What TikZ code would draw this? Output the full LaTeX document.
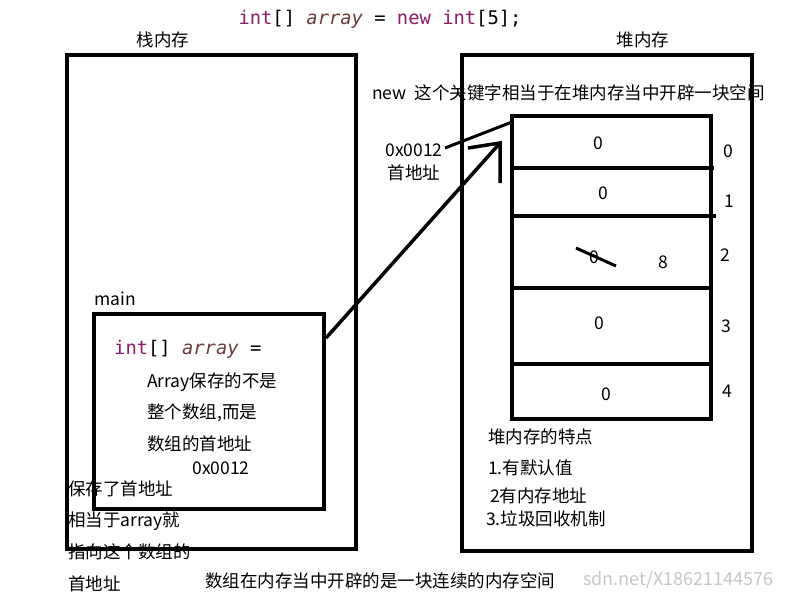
\documentclass[tikz,border=0pt]{standalone}
\usepackage{fontspec}
\setmainfont{Noto Sans CJK SC}
\setmonofont{DejaVu Sans Mono}
\definecolor{kw}{HTML}{8B1C6E}
\definecolor{var}{HTML}{6B3A3A}
\begin{document}
\begin{tikzpicture}[x=1pt,y=-1pt,
  box/.style={line width=3.5pt},
  txt/.style={font=\fontsize{17.5}{19}\selectfont,inner sep=0pt},
  lt/.style={txt,anchor=west},
  code/.style={font=\ttfamily\fontsize{18.8}{20}\selectfont,inner sep=0pt}]
\useasboundingbox (0,0) rectangle (800,600);
\fill[white] (0,0) rectangle (800,600);
% boxes
\draw[box] (67,55) rectangle (356,549);
\draw[box] (462,55) rectangle (752,551);
\draw[box] (94,314) rectangle (324,509);
\draw[box] (512,116) rectangle (711,419);
\draw[box] (512,168) -- (714,168);
\draw[box] (512,216) -- (716,216);
\draw[box] (512,288) -- (711,288);
\draw[box] (512,364) -- (711,364);
% texts
\node[code] (title) at (380,19) {\textcolor{kw}{int}[] \textcolor{var}{\itshape array} = \textcolor{kw}{new} \textcolor{kw}{int}[5];};
\node[txt] (stack) at (163,40) {栈内存};
\node[txt] (heap) at (643,40) {堆内存};
\node[lt] (newn) at (372,93) {new\ \ 这个关键字相当于在堆内存当中开辟一块空间};
\node[txt] (addr) at (414,150) {0x0012};
\node[txt] (addr2) at (414,173) {首地址};
\node[txt] (c0) at (598,143) {0};
\node[txt] (c1) at (603,193) {0};
\node[txt] (c2) at (594,257) {0};
\node[txt] (c2b) at (663,262) {8};
\node[txt] (c3) at (599,323) {0};
\node[txt] (c4) at (606,394) {0};
\node[txt] (i0) at (728,151) {0};
\node[txt] (i1) at (729,201) {1};
\node[txt] (i2) at (725,255) {2};
\node[txt] (i3) at (726,326) {3};
\node[txt] (i4) at (727,391) {4};
\node[lt] (main) at (94,299) {main};
\node[code,anchor=west] (decl) at (114,349) {\textcolor{kw}{int}[] \textcolor{var}{\itshape array} =};
\node[lt] (n1) at (147,382) {Array保存的不是};
\node[lt] (n2) at (147,413) {整个数组,而是};
\node[lt] (n3) at (147,444) {数组的首地址};
\node[txt] (n4) at (221,468) {0x0012};
\node[lt] (l1) at (68,489) {保存了首地址};
\node[lt] (l2) at (68,521) {相当于array就};
\node[lt] (l3) at (68,552) {指向这个数组的};
\node[lt] (l4) at (68,584) {首地址};
\node[lt] (bot) at (205,581) {数组在内存当中开辟的是一块连续的内存空间};
\node[lt] (h1) at (488,437) {堆内存的特点};
\node[lt] (h2) at (488,468) {1.有默认值};
\node[lt] (h3) at (490,496) {2有内存地址};
\node[lt] (h4) at (486,519) {3.垃圾回收机制};
\node[anchor=west,inner sep=0pt,text=gray!45,font=\rmfamily\fontsize{18}{20}\selectfont] (wm) at (583,580) {sdn.net/X18621144576};
% arrows
\coordinate (tip) at (500,143);
\coordinate (from) at (326,338);
\draw[box] (from) -- (tip);
\draw[box] (468,148) -- (tip) -- (500,183);
\draw[line width=3pt] (445,148) -- (512,122);
\draw[line width=3pt] (576,248) -- (616,266);
\end{tikzpicture}
\end{document}
